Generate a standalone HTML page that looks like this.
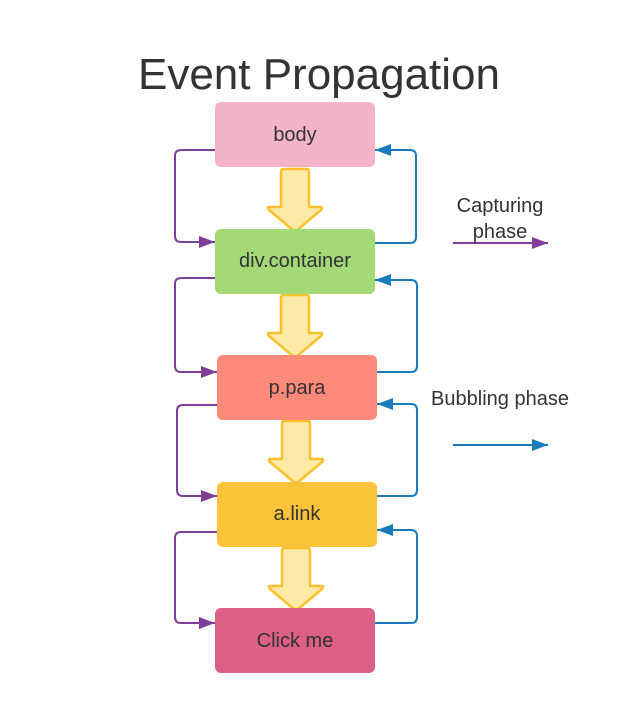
<!DOCTYPE html>
<html><head><meta charset="utf-8"><style>
html,body{margin:0;padding:0;background:#fff;}
svg{display:block;}
text{font-family:"Liberation Sans",sans-serif;fill:#333;}
</style></head><body>
<svg width="638" height="726" viewBox="0 0 638 726" xmlns="http://www.w3.org/2000/svg">
<defs>
<marker id="mp" markerWidth="16" markerHeight="12" refX="16" refY="6" orient="auto" markerUnits="userSpaceOnUse"><path d="M0,0 L16,6 L0,12 Z" fill="#7f3f98"/></marker>
<marker id="mb" markerWidth="16" markerHeight="12" refX="16" refY="6" orient="auto" markerUnits="userSpaceOnUse"><path d="M0,0 L16,6 L0,12 Z" fill="#1a7bbd"/></marker>
<g id="ya"><path d="M-12,0 Q-14,0 -14,3 L-14,38 L-26,38 Q-28,38 -26,41 L-1,62 Q0,63 1,62 L26,41 Q28,38 26,38 L14,38 L14,3 Q14,0 12,0 Z" fill="#ffe9a6" stroke="#fbc02d" stroke-width="2.5" stroke-linejoin="round"/></g>
</defs>
<text x="319" y="89" font-size="44" text-anchor="middle">Event Propagation</text>

<g fill="none" stroke-width="2" stroke-linejoin="round">
<path d="M215,150 H181 Q175,150 175,156 V236 Q175,242 181,242 H215" stroke="#7f3f98" marker-end="url(#mp)"/>
<path d="M375,243 H410 Q416,243 416,237 V156 Q416,150 410,150 H375" stroke="#1a7bbd" marker-end="url(#mb)"/>
<path d="M215,278 H181 Q175,278 175,284 V366 Q175,372 181,372 H217" stroke="#7f3f98" marker-end="url(#mp)"/>
<path d="M377,372 H411 Q417,372 417,366 V286 Q417,280 411,280 H375" stroke="#1a7bbd" marker-end="url(#mb)"/>
<path d="M217,405 H183 Q177,405 177,411 V490 Q177,496 183,496 H217" stroke="#7f3f98" marker-end="url(#mp)"/>
<path d="M377,496 H411 Q417,496 417,490 V410 Q417,404 411,404 H377" stroke="#1a7bbd" marker-end="url(#mb)"/>
<path d="M217,532 H181 Q175,532 175,538 V617 Q175,623 181,623 H215" stroke="#7f3f98" marker-end="url(#mp)"/>
<path d="M375,623 H411 Q417,623 417,617 V536 Q417,530 411,530 H377" stroke="#1a7bbd" marker-end="url(#mb)"/>
<path d="M453,243 H548" stroke="#7f3f98" marker-end="url(#mp)"/>
<path d="M453,445 H548" stroke="#1a7bbd" marker-end="url(#mb)"/>
</g>

<use href="#ya" x="295" y="169"/>
<use href="#ya" x="295" y="295"/>
<use href="#ya" x="296" y="421"/>
<use href="#ya" x="296" y="548"/>

<rect x="215" y="102" width="160" height="65" rx="6" fill="#f4b4c8"/>
<rect x="215" y="229" width="160" height="65" rx="6" fill="#a3d977"/>
<rect x="217" y="355" width="160" height="65" rx="6" fill="#ff8a7a"/>
<rect x="217" y="482" width="160" height="65" rx="6" fill="#fbc33a"/>
<rect x="215" y="608" width="160" height="65" rx="6" fill="#dc5f84"/>

<text x="295" y="141" font-size="20" text-anchor="middle">body</text>
<text x="295" y="267" font-size="20" text-anchor="middle">div.container</text>
<text x="297" y="394" font-size="20" text-anchor="middle">p.para</text>
<text x="297" y="520" font-size="20" text-anchor="middle">a.link</text>
<text x="295" y="647" font-size="20" text-anchor="middle">Click me</text>

<text x="500" y="212" font-size="20" text-anchor="middle">Capturing</text>
<text x="500" y="238" font-size="20" text-anchor="middle">phase</text>
<text x="500" y="405" font-size="20" text-anchor="middle">Bubbling phase</text>
</svg>
</body></html>
